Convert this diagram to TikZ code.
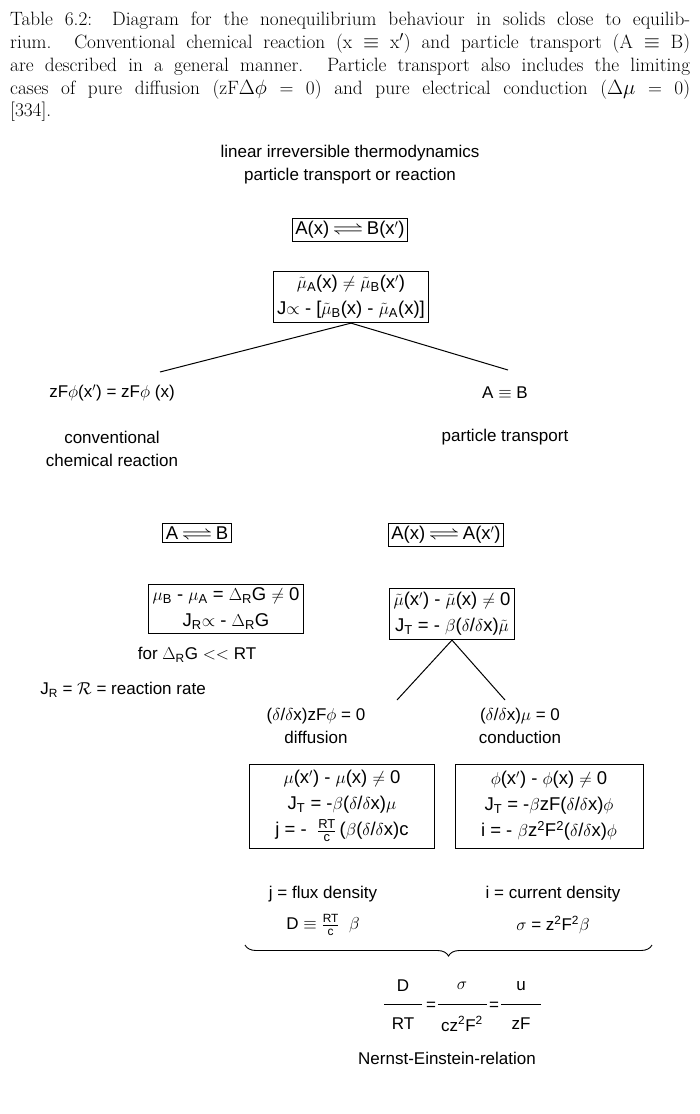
\documentclass[tikz,border=0pt]{standalone}
\usepackage{amsmath,amssymb}
\usepackage{graphicx}
\usepackage{fontspec}
\newfontfamily\sfx{Liberation Sans}
\usetikzlibrary{decorations.pathreplacing}
\newcommand{\sbs}[1]{\textsubscript{#1}}
\newcommand{\rl}{\,\scalebox{1.7}[1.1]{$\rightleftharpoons$}\,}
\newcommand{\rtc}{$\genfrac{}{}{0.6pt}{}{\text{\sfx RT}}{\text{\sfx c}}$}
\begin{document}
\begin{tikzpicture}[x=1pt,y=-1pt,
  t/.style={font=\sfx\fontsize{17}{23}\selectfont,align=center,inner sep=2pt},
  bx/.style={font=\sfx\fontsize{18.5}{26}\selectfont,align=center,draw,line width=1pt,inner sep=4pt},
  ln/.style={line width=1pt}]
\useasboundingbox (0,0) rectangle (700,1114);
% caption
\node[anchor=north west,inner sep=0,font=\fontsize{19.3}{22.8}\selectfont,align=left] (cap) at (10,12) {%
\makebox[680pt][s]{Table 6.2: Diagram for the nonequilibrium behaviour in solids close to equilib-}\\
\makebox[680pt][s]{rium. Conventional chemical reaction (x $\equiv$ x$'$) and particle transport (A $\equiv$ B)}\\
\makebox[680pt][s]{are described in a general manner. Particle transport also includes the limiting}\\
\makebox[680pt][s]{cases of pure diffusion (zF$\Delta\phi$ = 0) and pure electrical conduction ($\Delta\mu$ = 0)}\\
{[334].}};
\node[t] (title) at (350,165) {linear irreversible thermodynamics\\particle transport or reaction};
\node[bx,inner sep=3pt] (b1) at (350,230) {A(x)\rl B(x$'$)};
\node[bx] (b2) at (351,297) {$\tilde\mu$\sbs{A}(x) $\neq$ $\tilde\mu$\sbs{B}(x$'$)\\J$\propto$ - [$\tilde\mu$\sbs{B}(x) - $\tilde\mu$\sbs{A}(x)]};
\coordinate (cl) at (160,372);
\coordinate (cr) at (508,370);
\draw[ln] (b2.south) -- (cl);
\draw[ln] (b2.south) -- (cr);
\node[t] (zf) at (112,393) {zF$\phi$(x$'$) = zF$\phi$ (x)};
\node[t] (ab) at (505,393) {A $\equiv$ B};
\node[t] (conv) at (112,449) {conventional\\chemical reaction};
\node[t] (pt) at (505,437) {particle transport};
\node[bx,inner sep=3pt] (b3) at (197,533) {A\rl B};
\node[bx,inner sep=3pt] (b4) at (446,535) {A(x)\rl A(x$'$)};
\node[bx] (b5) at (226,609) {$\mu$\sbs{B} - $\mu$\sbs{A} = $\Delta$\sbs{R}G $\neq$ 0\\J\sbs{R}$\propto$ - $\Delta$\sbs{R}G};
\node[t] (for) at (197,655) {for $\Delta$\sbs{R}G $<<$ RT};
\node[t] (jr) at (123,690) {J\sbs{R} = $\mathcal{R}$ = reaction rate};
\node[bx] (b6) at (452,614) {$\tilde\mu$(x$'$) - $\tilde\mu$(x) $\neq$ 0\\J\sbs{T} = - $\beta$($\delta$/$\delta$x)$\tilde\mu$};
\coordinate (dl) at (397,700);
\coordinate (dr) at (505,700);
\draw[ln] (b6.south) -- (dl);
\draw[ln] (b6.south) -- (dr);
\node[t] (dif) at (316,726) {($\delta$/$\delta$x)zF$\phi$ = 0\\diffusion};
\node[t] (con) at (520,726) {($\delta$/$\delta$x)$\mu$ = 0\\conduction};
\node[bx,minimum width=185pt,minimum height=84pt,inner sep=1pt] (b7) at (342,806) {$\mu$(x$'$) - $\mu$(x) $\neq$ 0\\J\sbs{T} = -$\beta$($\delta$/$\delta$x)$\mu$\\j = - \ \rtc\,($\beta$($\delta$/$\delta$x)c};
\node[bx,minimum width=188pt,minimum height=84pt,inner sep=1pt] (b8) at (549,806) {$\phi$(x$'$) - $\phi$(x) $\neq$ 0\\J\sbs{T} = -$\beta$zF($\delta$/$\delta$x)$\phi$\\i = - $\beta$z\textsuperscript{2}F\textsuperscript{2}($\delta$/$\delta$x)$\phi$};
\node[t] (flux) at (323,894) {j = flux density};
\node[t] (dd) at (323,925) {D $\equiv$ \rtc\ \ $\beta$};
\node[t] (cur) at (553,894) {i = current density};
\node[t] (sig) at (553,925) {$\sigma$ = z\textsuperscript{2}F\textsuperscript{2}$\beta$};
\draw[decorate,decoration={brace,mirror,amplitude=11pt},line width=0.9pt] (245,945) -- (652,945);
\node[t] (f1n) at (403,986) {D};
\node[t] (f1d) at (403,1024) {RT};
\node[t] (f2n) at (462,986) {$\sigma$};
\node[t] (f2d) at (462,1024) {cz\textsuperscript{2}F\textsuperscript{2}};
\node[t] (f3n) at (521,986) {u};
\node[t] (f3d) at (521,1024) {zF};
\draw[line width=0.8pt] (384,1004) -- (422,1004);
\node[t] at (431,1006) {=};
\draw[line width=0.8pt] (438,1004) -- (487,1004);
\node[t] at (494,1006) {=};
\draw[line width=0.8pt] (501,1004) -- (541,1004);
\node[t] (ne) at (447,1058) {Nernst-Einstein-relation};
\end{tikzpicture}
\end{document}
